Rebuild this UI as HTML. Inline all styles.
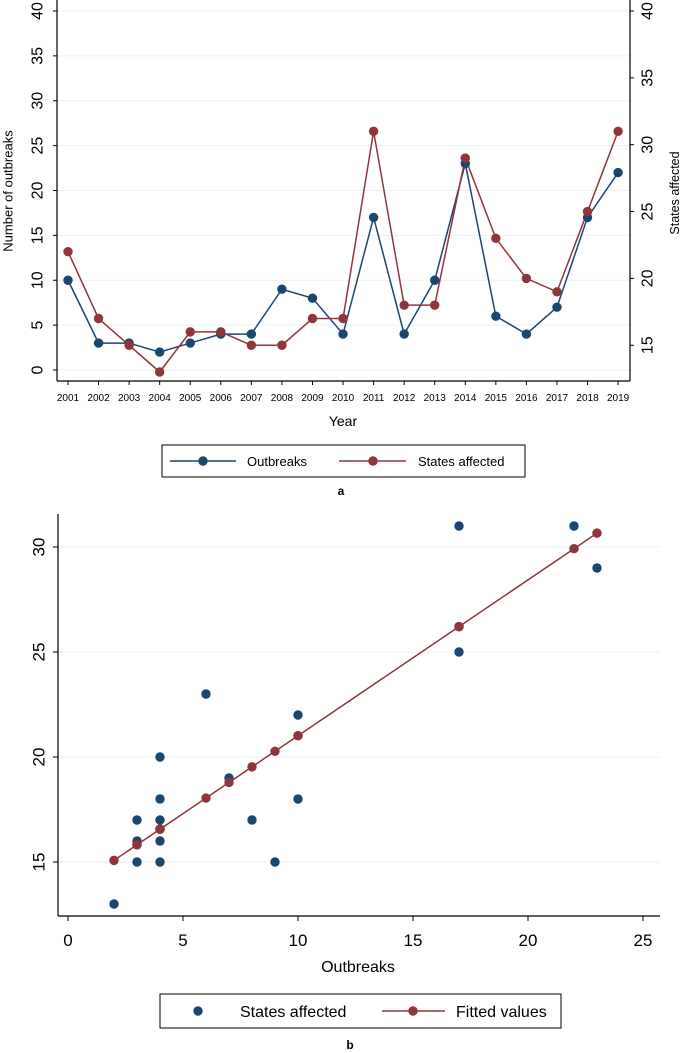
<!DOCTYPE html>
<html><head><meta charset="utf-8"><style>
body{margin:0;background:#fff;}
svg{display:block;font-family:"Liberation Sans",sans-serif;}
</style></head><body>
<svg id="s" width="685" height="1053" viewBox="0 0 685 1053"></svg>
<script>
const years=[2001,2002,2003,2004,2005,2006,2007,2008,2009,2010,2011,2012,2013,2014,2015,2016,2017,2018,2019];
const outbreaks=[10,3,3,2,3,4,4,9,8,4,17,4,10,23,6,4,7,17,22];
const states=[22,17,15,13,16,16,15,15,17,17,31,18,18,29,23,20,19,25,31];
const leftTicks=[0,5,10,15,20,25,30,35,40];
const rightTicks=[15,20,25,30,35,40];
const bxTicks=[0,5,10,15,20,25];
const byTicks=[15,20,25,30];
const BLUE="#1a476f",RED="#90353b",GRID="#eaf2f3";
const svg=document.getElementById('s');
const NS="http://www.w3.org/2000/svg";
function mk(t,a,p,name){const e=document.createElementNS(NS,t);for(const k in a)e.setAttribute(k,a[k]);


(p||svg).appendChild(e);return e;}
function txt(x,y,s,size,opts,name){const o=Object.assign({},opts||{});const p=o._p;delete o._p;
const e=mk('text',Object.assign({x:x,y:y,'font-size':size,fill:'#000','text-anchor':'middle'},o),p,name);e.textContent=s;return e;}
// ---- chart a ----
const ax=y=>68+(y-2001)*30.56;
const ayL=v=>370-v*8.975;
const ayR=v=>11+(40-v)*13.37;
const ga=mk('g',{},svg,'chart-a');
leftTicks.forEach(v=>{mk('line',{x1:57,x2:630,y1:ayL(v),y2:ayL(v),stroke:GRID,'stroke-width':1},ga,'gridline');
mk('line',{x1:53,x2:57,y1:ayL(v),y2:ayL(v),stroke:'#000'},ga,'left-tick');
txt(38,ayL(v),String(v),16,{transform:`rotate(-90 38 ${ayL(v)})`,'dominant-baseline':'central',_p:ga},'left-tick-label');});
rightTicks.forEach(v=>{mk('line',{x1:630,x2:634,y1:ayR(v),y2:ayR(v),stroke:'#000'},ga,'right-tick');
txt(648,ayR(v),String(v),16,{transform:`rotate(-90 648 ${ayR(v)})`,'dominant-baseline':'central',_p:ga},'right-tick-label');});
mk('line',{x1:57,x2:57,y1:0,y2:381,stroke:'#000','stroke-width':1.2},ga,'left-axis');
mk('line',{x1:630,x2:630,y1:0,y2:381,stroke:'#000','stroke-width':1.2},ga,'right-axis');
mk('line',{x1:57,x2:630,y1:381,y2:381,stroke:'#000','stroke-width':1.2},ga,'x-axis');
years.forEach(y=>{mk('line',{x1:ax(y),x2:ax(y),y1:381,y2:385,stroke:'#000'},ga,'x-tick');
txt(ax(y),401,String(y),10,{_p:ga},'x-tick-label');});
txt(8,191,'Number of outbreaks',13,{transform:'rotate(-90 8 191)','dominant-baseline':'central',_p:ga},'y-axis-title-left');
txt(675,193,'States affected',12.5,{transform:'rotate(-90 675 193)','dominant-baseline':'central',_p:ga},'y-axis-title-right');
txt(343,426,'Year',14,{_p:ga},'x-axis-title');
mk('polyline',{points:years.map((y,i)=>ax(y)+','+ayL(outbreaks[i])).join(' '),fill:'none',stroke:BLUE,'stroke-width':1.5},ga,'outbreaks-line');
mk('polyline',{points:years.map((y,i)=>ax(y)+','+ayR(states[i])).join(' '),fill:'none',stroke:RED,'stroke-width':1.5},ga,'states-line');
years.forEach((y,i)=>mk('circle',{cx:ax(y),cy:ayL(outbreaks[i]),r:4.7,fill:BLUE},ga,'outbreaks-point'));
years.forEach((y,i)=>mk('circle',{cx:ax(y),cy:ayR(states[i]),r:4.7,fill:RED},ga,'states-point'));
const la=mk('g',{},ga,'legend-a');
mk('rect',{x:162,y:445,width:363,height:32,fill:'#fff',stroke:'#000','stroke-width':1},la,'legend-box');
mk('line',{x1:170,x2:236,y1:461,y2:461,stroke:BLUE,'stroke-width':1.5},la,'legend-outbreaks-line');
mk('circle',{cx:203,cy:461,r:4.7,fill:BLUE},la,'legend-outbreaks-marker');
txt(247,466,'Outbreaks',13,{'text-anchor':'start',_p:la},'legend-outbreaks-label');
mk('line',{x1:339,x2:406,y1:461,y2:461,stroke:RED,'stroke-width':1.5},la,'legend-states-line');
mk('circle',{cx:373,cy:461,r:4.7,fill:RED},la,'legend-states-marker');
txt(418,466,'States affected',13,{'text-anchor':'start',_p:la},'legend-states-label');
txt(341,495,'a',12,{'font-weight':'bold'},'panel-a-label');
// ---- chart b ----
const bx=v=>68+v*23.0;
const by=v=>862-(v-15)*21;
const gb=mk('g',{},svg,'chart-b');
byTicks.forEach(v=>{mk('line',{x1:58,x2:660,y1:by(v),y2:by(v),stroke:GRID,'stroke-width':1},gb,'gridline');
mk('line',{x1:53,x2:58,y1:by(v),y2:by(v),stroke:'#000'},gb,'y-tick');
txt(39,by(v),String(v),17,{transform:`rotate(-90 39 ${by(v)})`,'dominant-baseline':'central',_p:gb},'y-tick-label');});
mk('line',{x1:58,x2:58,y1:514,y2:916,stroke:'#000','stroke-width':1.2},gb,'y-axis');
mk('line',{x1:58,x2:660,y1:916,y2:916,stroke:'#000','stroke-width':1.2},gb,'x-axis');
bxTicks.forEach(v=>{mk('line',{x1:bx(v),x2:bx(v),y1:916,y2:921,stroke:'#000'},gb,'x-tick');
txt(bx(v),946,String(v),17,{_p:gb},'x-tick-label');});
txt(358,972,'Outbreaks',16,{_p:gb},'x-axis-title');
// regression
const n=outbreaks.length;const mx=outbreaks.reduce((a,b)=>a+b)/n,my=states.reduce((a,b)=>a+b)/n;
let sxy=0,sxx=0;outbreaks.forEach((x,i)=>{sxy+=(x-mx)*(states[i]-my);sxx+=(x-mx)*(x-mx);});
const slope=sxy/sxx,icpt=my-slope*mx;
const fitted=outbreaks.map(x=>icpt+slope*x);
outbreaks.forEach((x,i)=>mk('circle',{cx:bx(x),cy:by(states[i]),r:4.7,fill:BLUE},gb,'scatter-point'));
const order=outbreaks.map((x,i)=>i).sort((a,b)=>outbreaks[a]-outbreaks[b]);
mk('polyline',{points:order.map(i=>bx(outbreaks[i])+','+by(fitted[i])).join(' '),fill:'none',stroke:RED,'stroke-width':1.5},gb,'fitted-line');
order.forEach(i=>mk('circle',{cx:bx(outbreaks[i]),cy:by(fitted[i]),r:4.7,fill:RED},gb,'fitted-point'));
const lb=mk('g',{},gb,'legend-b');
mk('rect',{x:160,y:994,width:401,height:34,fill:'#fff',stroke:'#000','stroke-width':1},lb,'legend-box');
mk('circle',{cx:198,cy:1011,r:4.7,fill:BLUE},lb,'legend-states-marker');
txt(240,1017,'States affected',16,{'text-anchor':'start',_p:lb},'legend-states-label');
mk('line',{x1:382,x2:445,y1:1011,y2:1011,stroke:RED,'stroke-width':1.5},lb,'legend-fitted-line');
mk('circle',{cx:413,cy:1011,r:4.7,fill:RED},lb,'legend-fitted-marker');
txt(456,1017,'Fitted values',16,{'text-anchor':'start',_p:lb},'legend-fitted-label');
txt(350,1049,'b',12,{'font-weight':'bold'},'panel-b-label');
</script>
</body></html>
